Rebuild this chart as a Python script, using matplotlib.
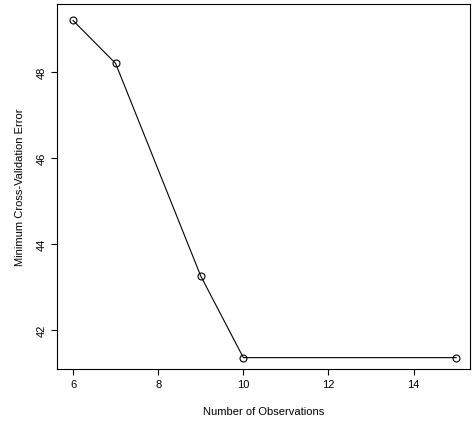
import matplotlib
matplotlib.use("Agg")
import matplotlib.pyplot as plt

obs = [6, 7, 9, 10, 15]
cv_error = [49.2, 48.2, 43.25, 41.35, 41.35]
xticks = [6, 8, 10, 12, 14]
yticks = [42, 44, 46, 48]

plt.rcParams['font.family'] = ['Liberation Sans', 'DejaVu Sans']
fig = plt.figure(figsize=(4.74, 4.31), dpi=100)
ax = fig.add_axes([0.12, 0.142, 0.872, 0.846])
ax.plot(obs, cv_error, color='black', lw=0.8, marker='o', mfc='none', mec='black', ms=5, mew=0.8)
ax.set_xlim(5.62, 15.33)
ax.set_ylim(41.09, 49.58)
ax.set_xticks(xticks)
ax.set_yticks(yticks)
ax.set_yticklabels([str(t) for t in yticks], rotation=90, va='center')
ax.tick_params(labelsize=8, length=4, width=0.8)
for s in ax.spines.values():
    s.set_linewidth(0.8)
ax.set_xlabel('Number of Observations', fontsize=8, labelpad=12)
ax.set_ylabel('Minimum Cross-Validation Error', fontsize=8, labelpad=8)
fig.savefig('out.png', dpi=100)
